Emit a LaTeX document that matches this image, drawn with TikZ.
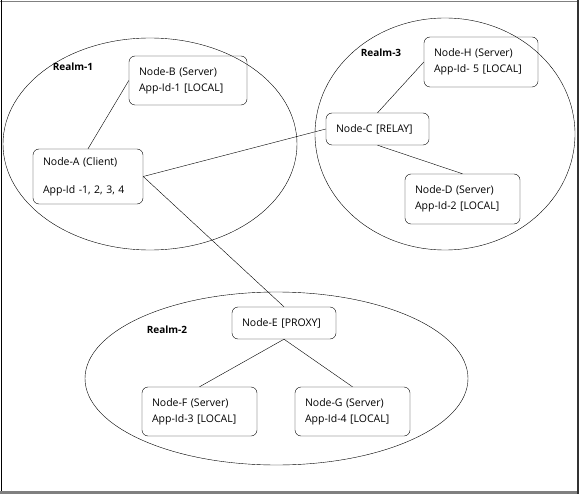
\documentclass[tikz,border=0pt]{standalone}
\usepackage{fontspec}
\setmainfont{Open Sans}
\usepackage{tikz}

\begin{document}
\begin{tikzpicture}[x = 1pt, y = -1pt,
  box/.style = {draw, rounded corners = 6pt, align = left, inner xsep = 10pt,
    inner ysep = 4pt, font = \fontsize{10.5}{16}\selectfont},
  realm/.style = {font = \bfseries\fontsize{10}{12}\selectfont}]
\useasboundingbox (0, 0) rectangle (580, 494);
% frame
\draw[color = gray] (0, 1) -- (577, 1);
\draw (1, 0) -- (1, 491);
\fill[color = gray] (0, 491) rectangle (578, 494);
\fill[color = black!80] (576.5, 0) rectangle (578.5, 494);
% realms
\draw (150, 144) ellipse (147 and 106);
\draw (445, 134) ellipse (130 and 116);
\draw (276.5, 378.5) ellipse (191.5 and 86.5);
\node (realm1) at (73, 67) [realm] {Realm-1};
\node (realm3) at (381, 53) [realm] {Realm-3};
\node (realm2) at (167, 330) [realm] {Realm-2};
% nodes
\node (nodeA) at (88, 176.5) [box, text width = 90pt, minimum height = 55pt]
  {Node-A (Client)\\[12pt]App-Id -1, 2, 3, 4};
\node (nodeB) at (188, 80.5) [box, text width = 98pt, minimum height = 49pt]
  {Node-B (Server)\\App-Id-1 [LOCAL]};
\node (nodeC) at (377.5, 129) [box, text width = 83pt, minimum height = 32pt]
  {Node-C [RELAY]};
\node (nodeH) at (481, 62) [box, text width = 94pt, minimum height = 50pt]
  {Node-H (Server)\\App-Id- 5 [LOCAL]};
\node (nodeD) at (462.5, 199) [box, text width = 95pt, minimum height = 50pt]
  {Node-D (Server)\\App-Id-2 [LOCAL]};
\node (nodeE) at (284, 323) [box, text width = 84pt, minimum height = 32pt]
  {Node-E [PROXY]};
\node (nodeF) at (199.5, 411.5) [box, text width = 95pt, minimum height = 49pt]
  {Node-F (Server)\\App-Id-3 [LOCAL]};
\node (nodeG) at (352.5, 411.5) [box, text width = 95pt, minimum height = 49pt]
  {Node-G (Server)\\App-Id-4 [LOCAL]};
% links
\draw (nodeA.north) to (nodeB.west);
\draw (nodeA.east) to (nodeC.west);
\draw (nodeA.east) to (nodeE.north);
\draw (nodeC.north) to (nodeH.west);
\draw (nodeC.south) to (nodeD.north);
\draw (nodeE.south) to (nodeF.north);
\draw (nodeE.south) to (nodeG.north);
\end{tikzpicture}
\end{document}
